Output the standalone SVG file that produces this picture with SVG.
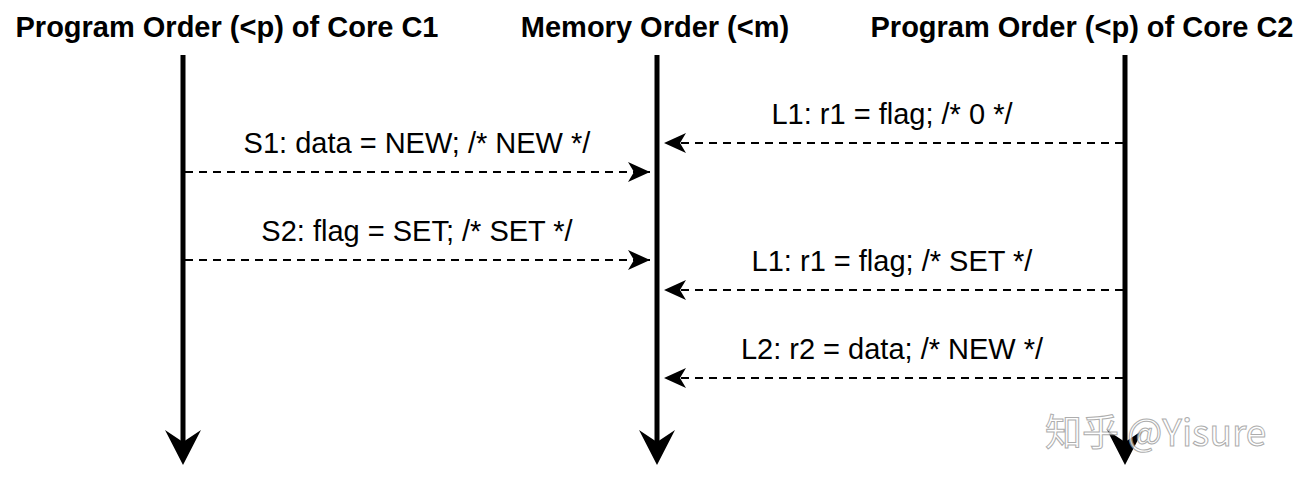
<svg xmlns="http://www.w3.org/2000/svg" width="1316" height="486" viewBox="0 0 1316 486">
<style>
.t{font-family:"Liberation Sans",Arial,sans-serif;font-size:29px;font-weight:bold;fill:#000;text-anchor:middle}
.l{font-family:"Liberation Sans",Arial,sans-serif;font-size:29px;fill:#000;text-anchor:middle}
.v{stroke:#000;stroke-width:5;fill:none}
.d{stroke:#000;stroke-width:2;stroke-dasharray:8 6;fill:none}
</style>
<defs>
<marker id="sm" markerWidth="10" markerHeight="10" refX="0" refY="0" orient="auto" markerUnits="userSpaceOnUse" overflow="visible">
<path d="M0,0 L-22,-10 L-16,0 L-22,10 Z" fill="#000"/>
</marker>
</defs>
<rect width="1316" height="486" fill="#fff"/>
<g id="c1"><text class="t" x="227" y="37">Program Order (&lt;p) of Core C1</text><line class="v" x1="183" y1="55" x2="183" y2="455"/><path d="M165,430 L183,465 L201,430 L183,442 Z"/></g>
<g id="mem"><text class="t" x="655" y="37">Memory Order (&lt;m)</text><line class="v" x1="657" y1="55" x2="657" y2="455"/><path d="M639,430 L657,465 L675,430 L657,442 Z"/></g>
<g id="c2"><text class="t" x="1082" y="37">Program Order (&lt;p) of Core C2</text><line class="v" x1="1125" y1="55" x2="1125" y2="455"/><path d="M1107,430 L1125,465 L1143,430 L1125,442 Z"/></g>
<g id="connectors">
<line class="d" x1="185" y1="172" x2="650" y2="172" marker-end="url(#sm)"/>
<line class="d" x1="185" y1="260" x2="650" y2="260" marker-end="url(#sm)"/>
<line class="d" x1="1123" y1="143" x2="664" y2="143" marker-end="url(#sm)"/>
<line class="d" x1="1123" y1="290" x2="664" y2="290" marker-end="url(#sm)"/>
<line class="d" x1="1123" y1="378" x2="664" y2="378" marker-end="url(#sm)"/>
</g>
<g id="labels">
<text class="l" x="417" y="153">S1: data = NEW; /* NEW */</text>
<text class="l" x="417" y="241">S2: flag = SET; /* SET */</text>
<text class="l" x="892" y="124">L1: r1 = flag; /* 0 */</text>
<text class="l" x="892" y="271">L1: r1 = flag; /* SET */</text>
<text class="l" x="892" y="359">L2: r2 = data; /* NEW */</text>
</g>
<text x="1045" y="446" font-family="'Noto Sans CJK SC',sans-serif" font-size="37" fill="#fff" stroke="#999" stroke-width="1" opacity="0.8">知乎 @Yisure</text>
</svg>
